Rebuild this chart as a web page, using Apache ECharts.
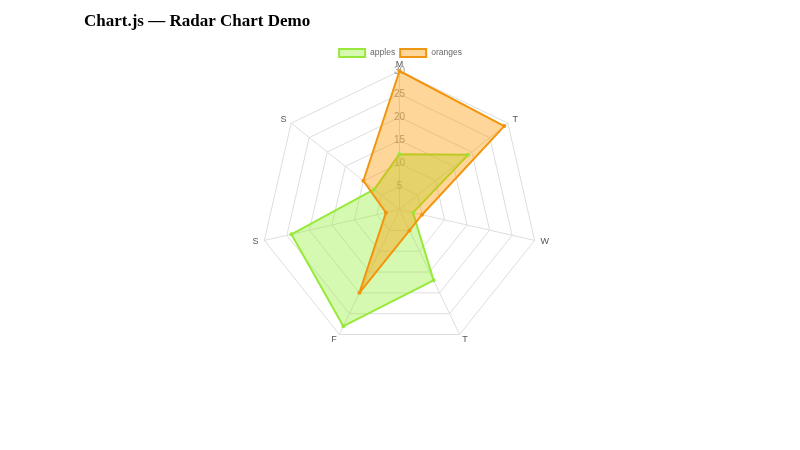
<!DOCTYPE html>
<html><head><meta charset="utf-8">
<script src="https://cdn.jsdelivr.net/npm/echarts@6/dist/echarts.min.js"></script>
<style>html,body{margin:0;padding:0;background:#fff}#c{width:800px;height:450px}</style>
</head><body><div id="c"></div>
<script>
var labels = ["M", "T", "W", "T", "F", "S", "S"];
var apples = [12, 19, 3, 17, 28, 24, 7];
var oranges = [30, 29, 5, 5, 20, 3, 10];
var tickLabels = ["0", "5", "10", "15", "20", "25", "30"];
var maxVal = 30;

// ECharts places indicators counter-clockwise; reorder to get clockwise layout
var order = [0, 6, 5, 4, 3, 2, 1];
var indicator = order.map(function (i) { return { name: labels[i], max: maxVal, min: 0 }; });
function reorder(arr) { return order.map(function (i) { return arr[i]; }); }

var appleFill = 'rgba(153,240,60,0.4)', appleLine = '#97e83a';
var orangeFill = 'rgba(255,153,0,0.4)', orangeLine = '#ee9512';

var cx = 399.5, cy = 209.6, R = 138.6;

var chart = echarts.init(document.getElementById('c'));
chart.setOption({
  animation: false,
  title: {
    text: 'Chart.js — Radar Chart Demo', left: 79, top: 8,
    textStyle: { fontFamily: 'Liberation Serif', fontWeight: 'bold', fontSize: 17, color: '#000' }
  },
  legend: {
    top: 43, left: 'center', itemWidth: 26, itemHeight: 8, itemGap: 4,
    textStyle: { fontFamily: 'Liberation Sans', fontSize: 8.5, color: '#666' },
    data: [
      { name: 'apples', icon: 'rect', itemStyle: { color: appleFill, borderColor: appleLine, borderWidth: 2 } },
      { name: 'oranges', icon: 'rect', itemStyle: { color: orangeFill, borderColor: orangeLine, borderWidth: 2 } }
    ]
  },
  radar: {
    center: [cx, cy], radius: R, startAngle: 90, shape: 'polygon', splitNumber: 6,
    indicator: indicator, nameGap: 6,
    axisName: {
      color: '#555', fontFamily: 'Liberation Sans', fontSize: 9,
      formatter: function (v) { return v === 'M' ? '{m|' + v + '}' : v; },
      rich: { m: { color: '#555', fontFamily: 'Liberation Sans', fontSize: 9, lineHeight: 1 } }
    },
    splitLine: { lineStyle: { color: '#ddd', width: 1 } },
    splitArea: { show: false },
    axisLine: { lineStyle: { color: '#ddd', width: 1 } }
  },
  grid: { left: cx, top: cy - R, width: 1, height: R },
  xAxis: { type: 'value', show: false },
  yAxis: {
    type: 'category', data: tickLabels, boundaryGap: false,
    axisLine: { show: false }, axisTick: { show: false }, splitLine: { show: false },
    axisLabel: { show: true, align: 'center', margin: 0, showMinLabel: false, color: '#999',
      fontFamily: 'Liberation Sans', fontSize: 10, verticalAlign: 'middle' }
  },
  series: [{
    type: 'radar',
    symbol: 'circle', symbolSize: 4,
    data: [
      { name: 'apples', value: reorder(apples),
        lineStyle: { color: appleLine, width: 2 }, itemStyle: { color: appleLine },
        areaStyle: { color: appleFill, opacity: 1 } },
      { name: 'oranges', value: reorder(oranges),
        lineStyle: { color: orangeLine, width: 2 }, itemStyle: { color: orangeLine },
        areaStyle: { color: orangeFill, opacity: 1 } }
    ]
  }]
});
</script></body></html>
